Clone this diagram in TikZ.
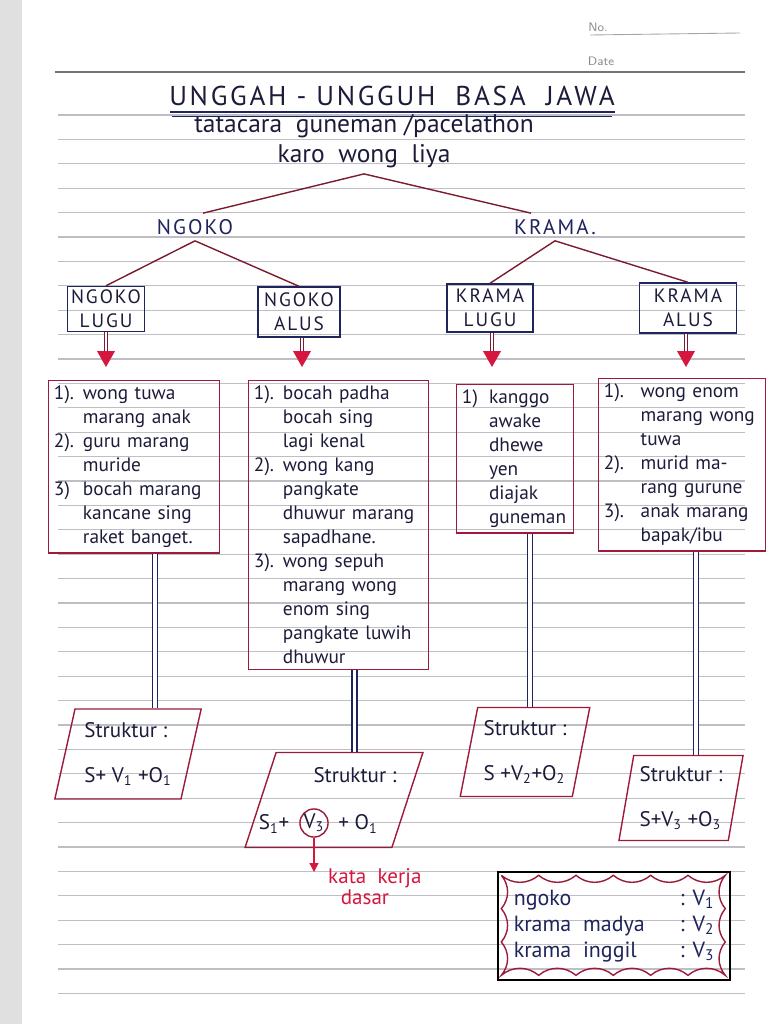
\documentclass[tikz,border=0pt]{standalone}
\usepackage{fontspec}
\setmainfont{PT Sans}
\newfontfamily\capsfont[LetterSpace=10]{PT Sans}
\definecolor{nbink}{RGB}{28,28,58}
\definecolor{nbnavy}{RGB}{30,36,92}
\definecolor{nbmaroon}{RGB}{122,28,48}
\definecolor{nbcrimson}{RGB}{158,26,58}
\definecolor{nbred}{RGB}{214,22,62}
\definecolor{nbrule}{RGB}{190,190,196}
\usetikzlibrary{arrows.meta,positioning,shapes.geometric,calc}
\hyphenpenalty=10000
\newcommand{\nbitem}[2][1.5em]{\makebox[#1][l]{#2}}
\newcommand{\nbcont}[1][1.5em]{\hspace*{#1}}

\begin{document}
\begin{tikzpicture}[x=0.02cm, y=-0.02cm,
  ruled/.style={nbrule, line width=0.6pt},
  levelbox/.style={draw=nbnavy, thick, align=center, inner sep=2pt,
    font=\capsfont\fontsize{11}{13.7}\selectfont, text=nbink},
  listbox/.style={draw=nbcrimson, thick, align=left, anchor=north west,
    inner sep=3pt, font=\fontsize{11}{13.66}\selectfont, text=nbink},
  strukbox/.style={draw=nbcrimson, thick, trapezium, trapezium stretches=true,
    align=left, font=\fontsize{12}{14}\selectfont, text=nbink},
  branch/.style={nbmaroon, thick},
  dblink/.style={draw=nbnavy, double=white, double distance=2.2pt, line width=0.7pt},
  dbshaft/.style={draw=nbmaroon, double=white, double distance=1.6pt, line width=0.6pt},
  redhead/.style={nbred, line width=0.7pt, -{Triangle[length=9pt,width=10pt]}},
  scallop/.style={nbcrimson, thick}]

\useasboundingbox (0,0) rectangle (768,1024);

% Paper: ruled lines and margin strip
\fill[black!12] (0,0) rectangle (22,1024);
\foreach \y in {115,139.4,...,1000}
  \draw[ruled] (58,\y) -- (745,\y);
\draw[black!55, line width=0.7pt] (55,72) -- (745,72);
\draw[black!35, line width=0.5pt] (590,35) -- (740,33);
\node[font=\sffamily\scriptsize, text=black!45] (no) at (598,27) {No.};
\node[font=\sffamily\scriptsize, text=black!45] (date) at (601,61) {Date};

% Title
\node[font=\capsfont\fontsize{15.5}{18}\selectfont, text=nbink] (title) at (392,96)
  {UNGGAH - UNGGUH \ BASA \ JAWA};
\draw[nbnavy, line width=1.1pt] (170,112) -- (615,112);
\draw[nbnavy, line width=0.7pt] (172,116.5) -- (612,116.5);

\node[font=\fontsize{14.5}{17}\selectfont, text=nbink, align=center] (sub) at (364,141)
  {tatacara \ guneman /pacelathon\\karo \ wong \ liya};

% First level
\node[font=\capsfont\fontsize{12}{14}\selectfont, text=nbnavy] (ngoko) at (195,227) {NGOKO};
\node[font=\capsfont\fontsize{12}{14}\selectfont, text=nbnavy] (krama) at (555,227) {KRAMA.};
\draw[branch] (sub.south) -- (ngoko.60);
\draw[branch] (sub.south) -- (krama.150);

% Second level
\node[levelbox, minimum width=1.54cm, minimum height=0.84cm] (nl) at (106,309) {NGOKO\\LUGU};
\node[levelbox, minimum width=1.64cm, minimum height=1.0cm] (na) at (299,312) {NGOKO\\ALUS};
\node[levelbox, minimum width=1.72cm, minimum height=0.96cm] (kl) at (490,308) {KRAMA\\LUGU};
\node[levelbox, minimum width=1.94cm, minimum height=1.0cm] (ka) at (688,308) {KRAMA\\ALUS};
\draw[branch] (ngoko.south) -- (nl.north);
\draw[branch] (ngoko.south) -- (na.north);
\draw[branch] (krama.south) -- (kl.north);
\draw[branch] (krama.south) -- (ka.north);

% Red arrows
\coordinate (nl-end) at (106,367);
\coordinate (na-end) at (302,367);
\coordinate (kl-end) at (492,367);
\coordinate (ka-end) at (686,367);
\foreach \b in {nl,na,kl,ka} {
  \draw[dbshaft] (\b.south -| \b-end) -- ($(\b-end)+(0,-14)$);
  \draw[redhead] ($(\b-end)+(0,-15)$) -- (\b-end);
}

% Lists
\node[listbox, text width=3.2cm, minimum height=3.4cm] (la) at (48,380) {%
  \nbitem{1).}wong tuwa\\
  \nbcont marang anak\\
  \nbitem{2).}guru marang\\
  \nbcont muride\\
  \nbitem{3)}bocah marang\\
  \nbcont kancane sing\\
  \nbcont raket banget.};
\node[listbox, text width=3.38cm, minimum height=5.78cm] (lb) at (248,380) {%
  \nbitem{1).}bocah padha\\
  \nbcont bocah sing\\
  \nbcont lagi kenal\\
  \nbitem{2).}wong kang\\
  \nbcont pangkate\\
  \nbcont dhuwur marang\\
  \nbcont sapadhane.\\
  \nbitem{3).}wong sepuh\\
  \nbcont marang wong\\
  \nbcont enom sing\\
  \nbcont pangkate luwih\\
  \nbcont dhuwur};
\node[listbox, text width=2.12cm, minimum height=2.84cm] (lc) at (456,384) {%
  \nbitem[1.4em]{1)}kanggo\\
  \nbcont[1.4em]awake\\
  \nbcont[1.4em]dhewe\\
  \nbcont[1.4em]yen\\
  \nbcont[1.4em]diajak\\
  \nbcont[1.4em]guneman};
\node[listbox, text width=3.12cm, minimum height=3.44cm] (ld) at (598,378) {%
  \nbitem[1.9em]{1).}wong enom\\
  \nbcont[1.9em]marang wong\\
  \nbcont[1.9em]tuwa\\
  \nbitem[1.9em]{2).}murid ma-\\
  \nbcont[1.9em]rang gurune\\
  \nbitem[1.9em]{3).}anak marang\\
  \nbcont[1.9em]bapak/ibu};

% Structure boxes
\node[strukbox, trapezium left angle=76, trapezium right angle=104,
  minimum width=2.94cm, minimum height=1.8cm] (sa) at (128,754)
  {Struktur :\\[12pt]S+ V\textsubscript{1} +O\textsubscript{1}};
\node[strukbox, trapezium left angle=75, trapezium right angle=105,
  minimum width=3.56cm, minimum height=1.9cm] (sb) at (334,800) {};
\node[strukbox, trapezium left angle=77, trapezium right angle=103,
  minimum width=2.52cm, minimum height=1.78cm] (sc) at (525,752)
  {Struktur :\\[12pt]S +V\textsubscript{2}+O\textsubscript{2}};
\node[strukbox, trapezium left angle=79, trapezium right angle=101,
  minimum width=2.34cm, minimum height=1.7cm] (sd) at (681,798)
  {Struktur :\\[12pt]S+V\textsubscript{3} +O\textsubscript{3}};

% Inside the ngoko alus structure
\node[font=\fontsize{12}{14}\selectfont, text=nbink] (sbt) at (355,775) {Struktur :};
\node[font=\fontsize{12}{14}\selectfont, text=nbink] (sbs) at (274,824) {S\textsubscript{1}+};
\node[draw=nbcrimson, thick, circle, minimum size=16pt, inner sep=0pt,
  font=\fontsize{12}{14}\selectfont, text=nbink] (v3) at (314,823) {V\textsubscript{3}};
\node[font=\fontsize{12}{14}\selectfont, text=nbink] (sbo) at (358,824) {+ O\textsubscript{1}};
\coordinate (kk) at (314,872);
\draw[nbred, line width=0.7pt, -{Triangle[length=5pt,width=5pt]}] (v3.south) -- (kk);
\node[font=\fontsize{12}{10.5}\selectfont, text=nbred, align=left, anchor=north west]
  (kata) at (322,862) {kata \ kerja\\\hspace*{0.6em}dasar};

% Double connectors
\draw[dblink] ($(la.south)+(21,0)$) coordinate (la-j) -- (la-j |- sa.north);
\draw[dblink] ($(lb.south)+(16,0)$) coordinate (lb-j) -- (lb-j |- sb.north);
\draw[dblink] ($(lc.south)+(15,0)$) coordinate (lc-j) -- (lc-j |- sc.north);
\draw[dblink] ($(ld.south)+(14,0)$) coordinate (ld-j) -- (ld-j |- sd.north);

% Key
\node[draw=black, thick, minimum width=4.64cm, minimum height=2.16cm,
  font=\fontsize{12.5}{14.8}\selectfont, text=nbnavy] (key) at (614,926)
  {\begin{tabular}{@{}l@{\hspace{1.6em}}l@{}}
   ngoko & : V\textsubscript{1}\\
   krama \ madya & : V\textsubscript{2}\\
   krama \ inggil & : V\textsubscript{3}
   \end{tabular}};
\draw[scallop] ($(key.north west)+(4,4)$)
  \foreach \i in {1,...,6} {to[bend right=40] ++(37.33,0)}
  \foreach \i in {1,2,3} {to[bend right=40] ++(0,33.33)}
  \foreach \i in {1,...,6} {to[bend right=40] ++(-37.33,0)}
  \foreach \i in {1,2,3} {to[bend right=40] ++(0,-33.33)};

\end{tikzpicture}
\end{document}
